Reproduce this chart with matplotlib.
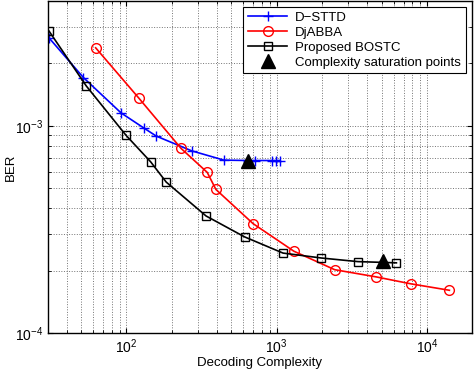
import matplotlib
matplotlib.use("Agg")
import matplotlib.pyplot as plt

plt.rcParams['font.family'] = ['Liberation Sans', 'DejaVu Sans']

# D-STTD
dsttd_x = [30.5, 51.7, 92, 130, 158, 272, 445, 640, 715, 937, 984, 1047]
dsttd_y = [2.66e-3, 1.71e-3, 1.155e-3, 9.78e-4, 8.92e-4, 7.57e-4, 6.83e-4, 6.8e-4, 6.8e-4, 6.8e-4, 6.8e-4, 6.8e-4]

# DjABBA
djabba_x = [62.4, 120.6, 231, 345, 394, 697, 1303, 2434, 4575, 7835, 14120]
djabba_y = [2.38e-3, 1.364e-3, 7.78e-4, 5.96e-4, 4.93e-4, 3.37e-4, 2.48e-4, 2.02e-4, 1.866e-4, 1.726e-4, 1.607e-4]

# Proposed BOSTC
bostc_x = [30.5, 54.1, 99.5, 145, 184, 339, 611, 1102, 1987, 3477, 6267]
bostc_y = [2.87e-3, 1.556e-3, 8.99e-4, 6.70e-4, 5.35e-4, 3.67e-4, 2.91e-4, 2.43e-4, 2.30e-4, 2.21e-4, 2.18e-4]

# complexity saturation points
sat_x = [646, 5140]
sat_y = [6.74e-4, 2.22e-4]

fig = plt.figure(figsize=(4.74, 3.72), dpi=100)
ax = fig.add_axes([0.101, 0.105, 0.895, 0.892])

ax.plot(dsttd_x, dsttd_y, color='blue', marker='+', markersize=7, lw=1.2, label='D\u2212STTD')
ax.plot(djabba_x, djabba_y, color='red', marker='o', markersize=7, mfc='none', lw=1.2, label='DjABBA')
ax.plot(bostc_x, bostc_y, color='black', marker='s', markersize=5.5, mfc='none', lw=1.2, label='Proposed BOSTC')
ax.plot(sat_x, sat_y, 'k^', markersize=10, ls='none', label='Complexity saturation points')

ax.set_xscale('log')
ax.set_yscale('log')
ax.set_xlim(30, 2e4)
ax.set_ylim(1e-4, 4e-3)

ax.grid(True, which='both', ls=':', color='0.45', lw=0.7)
ax.tick_params(which='both', direction='in', top=True, right=True, labelsize=10)
for s in ax.spines.values():
    s.set_linewidth(1.0)

ax.set_xlabel('Decoding Complexity', fontsize=9.5, va='center')
ax.set_ylabel('BER', fontsize=9.5, va='center')
ax.xaxis.set_label_coords(0.5, -0.09)
ax.yaxis.set_label_coords(-0.088, 0.5)

leg = ax.legend(loc='upper right', fontsize=9.5, fancybox=False, framealpha=1,
                edgecolor='black', bbox_to_anchor=(0.985, 0.982), borderaxespad=0,
                handlelength=3, labelspacing=0.2, borderpad=0.35, handletextpad=0.6)
leg.get_frame().set_linewidth(0.8)

fig.savefig('out.png', dpi=100)
